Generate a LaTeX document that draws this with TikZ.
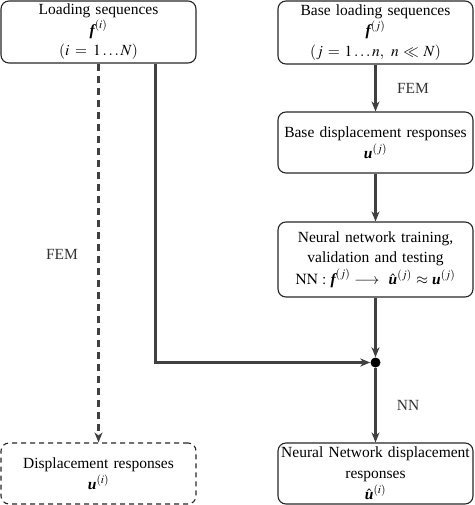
\documentclass[tikz,border=0pt]{standalone}
\usepackage{mathptmx}
\usepackage[no-math]{fontspec}
\setmainfont{Liberation Serif}
\usetikzlibrary{arrows.meta}
\newcommand{\bvec}[1]{\mbox{\bfseries\itshape #1}}
\definecolor{linegray}{HTML}{404040}
\tikzset{
  box/.style={draw=black!85, line width=1.1pt, rounded corners=8pt, align=center,
    minimum width=195pt, text width=192pt, inner sep=0pt},
  conn/.style={draw=linegray, line width=2.2pt, -{Stealth[length=10pt,width=8pt,inset=3pt]}},
  lbl/.style={text=black!80}
}
\begin{document}
\begin{tikzpicture}[x=1pt,y=-1pt, font=\fontsize{15.5}{20.5}\selectfont]
\useasboundingbox (0,0) rectangle (474,505);
\node[box, minimum height=62pt] (L1) at (98.5,32) {Loading sequences\\$\bvec{f}^{(i)}$\\$(i=1\ldots N)$};
\node[box, minimum height=63pt] (R1) at (375.5,32.5) {Base loading sequences\\$\bvec{f}^{(j)}$\\$(j=1\ldots n,\ n\ll N)$};
\node[box, minimum height=61pt] (R2) at (375.5,142.5) {Base displacement responses\\$\bvec{u}^{(j)}$};
\node[box, minimum height=75pt] (R3) at (375.5,259.5) {Neural network training,\\validation and testing\\[1pt]$\mathrm{NN}:\bvec{f}^{(j)}\longrightarrow\ \hat{\bvec{u}}^{(j)}\approx\bvec{u}^{(j)}$};
\node[box, minimum height=61pt] (R4) at (375.5,473.5) {Neural Network displacement\\responses\\[1pt]$\hat{\bvec{u}}^{(i)}$};
\node[box, dashed, dash pattern=on 5pt off 4pt, minimum height=61pt] (L4) at (98.5,473.5) {Displacement responses\\$\bvec{u}^{(i)}$};
\node[circle, fill=black, inner sep=0pt, minimum size=10pt] (dot) at (375.5,362.5) {};
\coordinate (corner) at (155.5,362.5);
\draw[conn, dashed, dash pattern=on 7pt off 5pt] (L1.south) -- (L4.north);
\draw[conn] (L1.south -| corner) -- (corner) -- (dot);
\draw[conn] (R1) -- (R2);
\draw[conn] (R2) -- (R3);
\draw[conn] (R3) -- (dot);
\draw[conn] (dot) -- (R4);
\node[lbl] (fem1) at (413,88) {FEM};
\node[lbl] (fem2) at (62,254) {FEM};
\node[lbl] (nn) at (408,405) {NN};
\end{tikzpicture}
\end{document}
